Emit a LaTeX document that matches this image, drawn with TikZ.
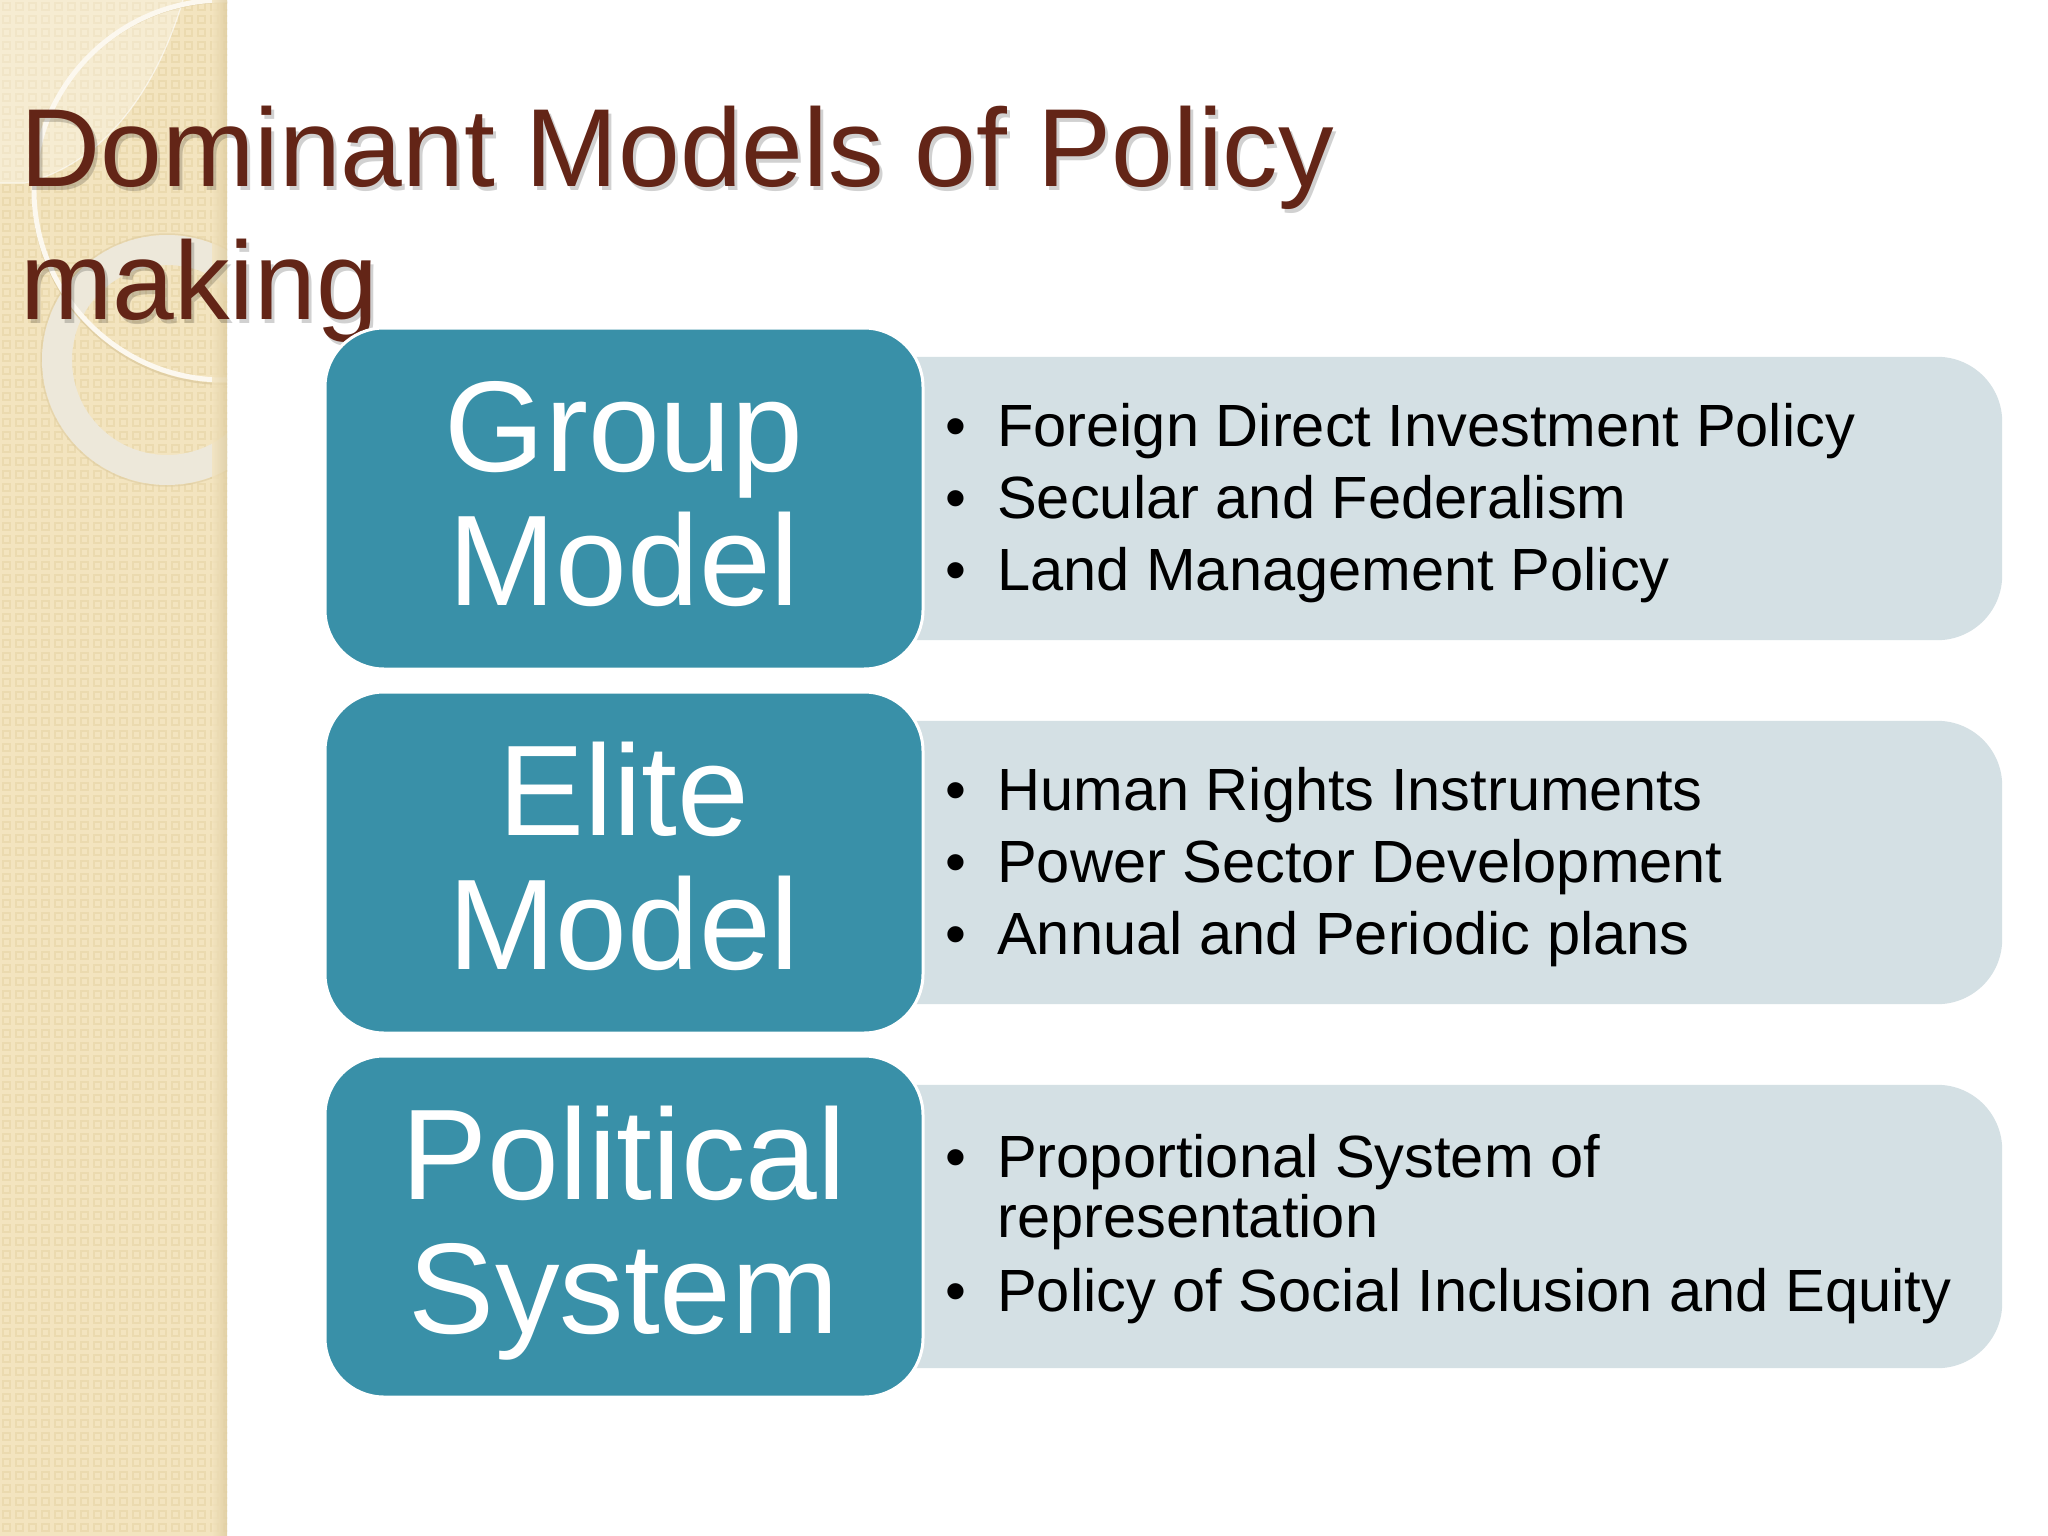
\documentclass[tikz,border=0pt]{standalone}
\usepackage{fontspec}
\setmainfont{Liberation Sans}
\definecolor{stripc}{RGB}{243,228,191}
\definecolor{stripdark}{RGB}{235,218,175}
\definecolor{stripedge}{RGB}{222,204,160}
\definecolor{ringc}{RGB}{237,232,218}
\definecolor{tealc}{RGB}{57,144,168}
\definecolor{lightc}{RGB}{212,224,228}
\definecolor{titlec}{RGB}{99,37,23}
\tikzset{
  tealbox/.style={draw=white, line width=3pt, fill=tealc, rounded corners=59pt,
    minimum width=598pt, minimum height=341pt, inner sep=0pt},
  lightbox/.style={minimum width=1088pt, minimum height=283pt, inner sep=0pt},
  lightfill/.style={fill=lightc, rounded corners=65pt},
  bigtext/.style={text=white, font=\fontsize{129pt}{134pt}\selectfont, anchor=base, inner sep=0pt},
  itemtext/.style={text=black, font=\fontsize{59.6pt}{72pt}\selectfont, anchor=base west, inner sep=0pt},
  bulletmark/.style={text=black, font=\fontsize{59.6pt}{72pt}\selectfont, anchor=base, inner sep=0pt},
  titletext/.style={text=titlec, font=\fontsize{111pt}{132pt}\selectfont, anchor=base west, inner sep=0pt},
  titleshadow/.style={text=black, opacity=0.18, font=\fontsize{111pt}{132pt}\selectfont, anchor=base west, inner sep=0pt}
}
\begin{document}
\begin{tikzpicture}[x=1pt,y=-1pt]
\useasboundingbox (0,0) rectangle (2048,1536);
\fill[white] (0,0) rectangle (2048,1536);
% left decorative strip
\begin{scope}
  \clip (0,0) rectangle (227,1536);
  \fill[stripc] (0,0) rectangle (227,1536);
  \foreach \i in {0,...,17} {
    \foreach \j in {0,...,118} {
      \draw[stripdark, line width=1.3pt] (\i*13+3,\j*13+3) rectangle +(7,7);
    }
  }
  \fill[white, opacity=0.3] (0,0) -- (183,0) .. controls (155,95) and (100,165) .. (25,183) -- (0,183) -- cycle;
  \draw[white, opacity=0.6, line width=1.2pt] (183,0) .. controls (155,95) and (100,165) .. (25,183) -- (0,183);
  \fill[ringc, even odd rule] (167,360) circle (125) (167,360) circle (95);
  \draw[stripedge, opacity=0.6, line width=1.5pt] (167,360) circle (126);
  \draw[stripedge, opacity=0.8, line width=2pt] (224,193) circle (191);
  \draw[white!75!stripc, line width=5pt] (224,190) circle (190);
  \shade[left color=stripc, right color=stripedge, opacity=0.8] (212,0) rectangle (227,1536);
\end{scope}
% title
\node[titleshadow] (tsh1) at (23,190) {Dominant Models of Policy};
\node[titleshadow] (tsh2) at (23,323) {making};
\node[titletext] (t1) at (20,186) {Dominant Models of Policy};
\node[titletext] (t2) at (20,319) {making};
% light boxes
\node[lightbox] (l1) at (1458,498.5) {};
\node[lightbox] (l2) at (1458,862.5) {};
\node[lightbox] (l3) at (1458,1226.5) {};
\path[lightfill] (l1.north west) -- (l1.north east) -- (l1.south east) -- (l1.south west);
\path[lightfill] (l2.north west) -- (l2.north east) -- (l2.south east) -- (l2.south west);
\path[lightfill] (l3.north west) -- (l3.north east) -- (l3.south east) -- (l3.south west);
% teal boxes
\node[tealbox] (g) at (624,498.5) {};
\node[tealbox] (e) at (624,862.5) {};
\node[tealbox] (p) at (624,1226.5) {};
\node[bigtext] (g1) at (624,471) {Group};
\node[bigtext] (g2) at (624,605) {Model};
\node[bigtext] (e1) at (624,835) {Elite};
\node[bigtext] (e2) at (624,969) {Model};
\node[bigtext] (p1) at (624,1199) {Political};
\node[bigtext] (p2) at (624,1333) {System};
% bullets box 1
\node[bulletmark] (d11) at (956,446) {•};
\node[itemtext] (i11) at (997,446) {Foreign Direct Investment Policy};
\node[bulletmark] (d12) at (956,518) {•};
\node[itemtext] (i12) at (997,518) {Secular and Federalism};
\node[bulletmark] (d13) at (956,590) {•};
\node[itemtext] (i13) at (997,590) {Land Management Policy};
% bullets box 2
\node[bulletmark] (d21) at (956,810) {•};
\node[itemtext] (i21) at (997,810) {Human Rights Instruments};
\node[bulletmark] (d22) at (956,882) {•};
\node[itemtext] (i22) at (997,882) {Power Sector Development};
\node[bulletmark] (d23) at (956,954) {•};
\node[itemtext] (i23) at (997,954) {Annual and Periodic plans};
% bullets box 3
\node[bulletmark] (d31) at (956,1177) {•};
\node[itemtext] (i31) at (997,1177) {Proportional System of};
\node[itemtext] (i32) at (997,1237) {representation};
\node[bulletmark] (d33) at (956,1311) {•};
\node[itemtext] (i33) at (997,1311) {Policy of Social Inclusion and Equity};
\end{tikzpicture}
\end{document}
